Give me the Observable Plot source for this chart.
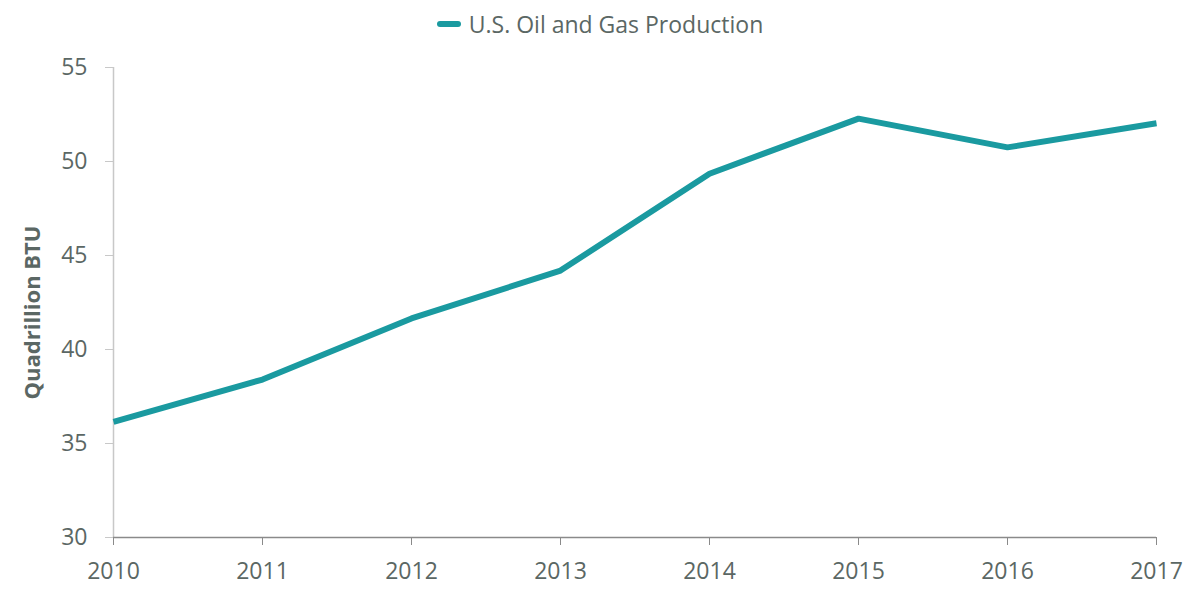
<!DOCTYPE html>
<html>
<head>
<meta charset="utf-8">
<script src="https://cdn.jsdelivr.net/npm/d3@7"></script>
<script src="https://cdn.jsdelivr.net/npm/@observablehq/plot@0.6"></script>
<style>
  body { margin: 0; background: #fff; font-family: "Segoe UI", "Open Sans", sans-serif; }
  #legend { height: 45px; display: flex; align-items: center; justify-content: center; color: #5b6764; font-size: 23px; padding-top: 3px; box-sizing: border-box; }
  #legend .sw { display: inline-block; width: 24px; height: 6px; border-radius: 3px; background: #1a9aa0; margin-right: 8px; }
</style>
</head>
<body>
<div id="legend"><span class="sw"></span><span>U.S. Oil and Gas Production</span></div>
<div id="chart"></div>
<script>
const years = [2010, 2011, 2012, 2013, 2014, 2015, 2016, 2017];
const production = [36.15, 38.4, 41.65, 44.2, 49.35, 52.28, 50.75, 52.03];
const yTicks = [30, 35, 40, 45, 50, 55];
const seriesName = "U.S. Oil and Gas Production";
const yLabel = "Quadrillion BTU";

const data = years.map((y, i) => ({year: y, value: production[i]}));
const textColor = "#5b6764";

const plot = Plot.plot({
  width: 1200,
  height: 555,
  marginTop: 22,
  marginBottom: 63,
  marginLeft: 113,
  marginRight: 44,
  style: {fontFamily: "'Segoe UI', 'Open Sans', sans-serif", fontSize: "23px", color: textColor, background: "#fff"},
  x: {domain: [2010, 2017]},
  y: {domain: [30, 55]},
  marks: [
    Plot.ruleX([2010], {stroke: "#c8c8c8", strokeWidth: 1.5}),
    Plot.axisY({ticks: yTicks, tickSize: 8, tickPadding: 18, stroke: "#c8c8c8", fill: textColor, fontSize: 23,
      label: yLabel, labelAnchor: "center", labelArrow: "none", labelOffset: 89}),
    Plot.axisX({ticks: years, tickFormat: d => String(d), tickSize: 8, tickPadding: 17, stroke: "#8a8a8a", fill: textColor, fontSize: 23, label: null}),
    Plot.ruleY([30], {stroke: "#8a8a8a", strokeWidth: 1.5}),
    Plot.line(data, {x: "year", y: "value", stroke: "#1a9aa0", strokeWidth: 6, strokeLinejoin: "miter", strokeLinecap: "butt"})
  ]
});
plot.querySelectorAll("text").forEach(t => {
  if (t.textContent === yLabel) {
    t.setAttribute("font-weight", "bold"); t.style.fontWeight = "bold"; t.setAttribute("font-size", "22");
    t.setAttribute("dx", "-10");
  }
});
document.getElementById("chart").appendChild(plot);
</script>
</body>
</html>
